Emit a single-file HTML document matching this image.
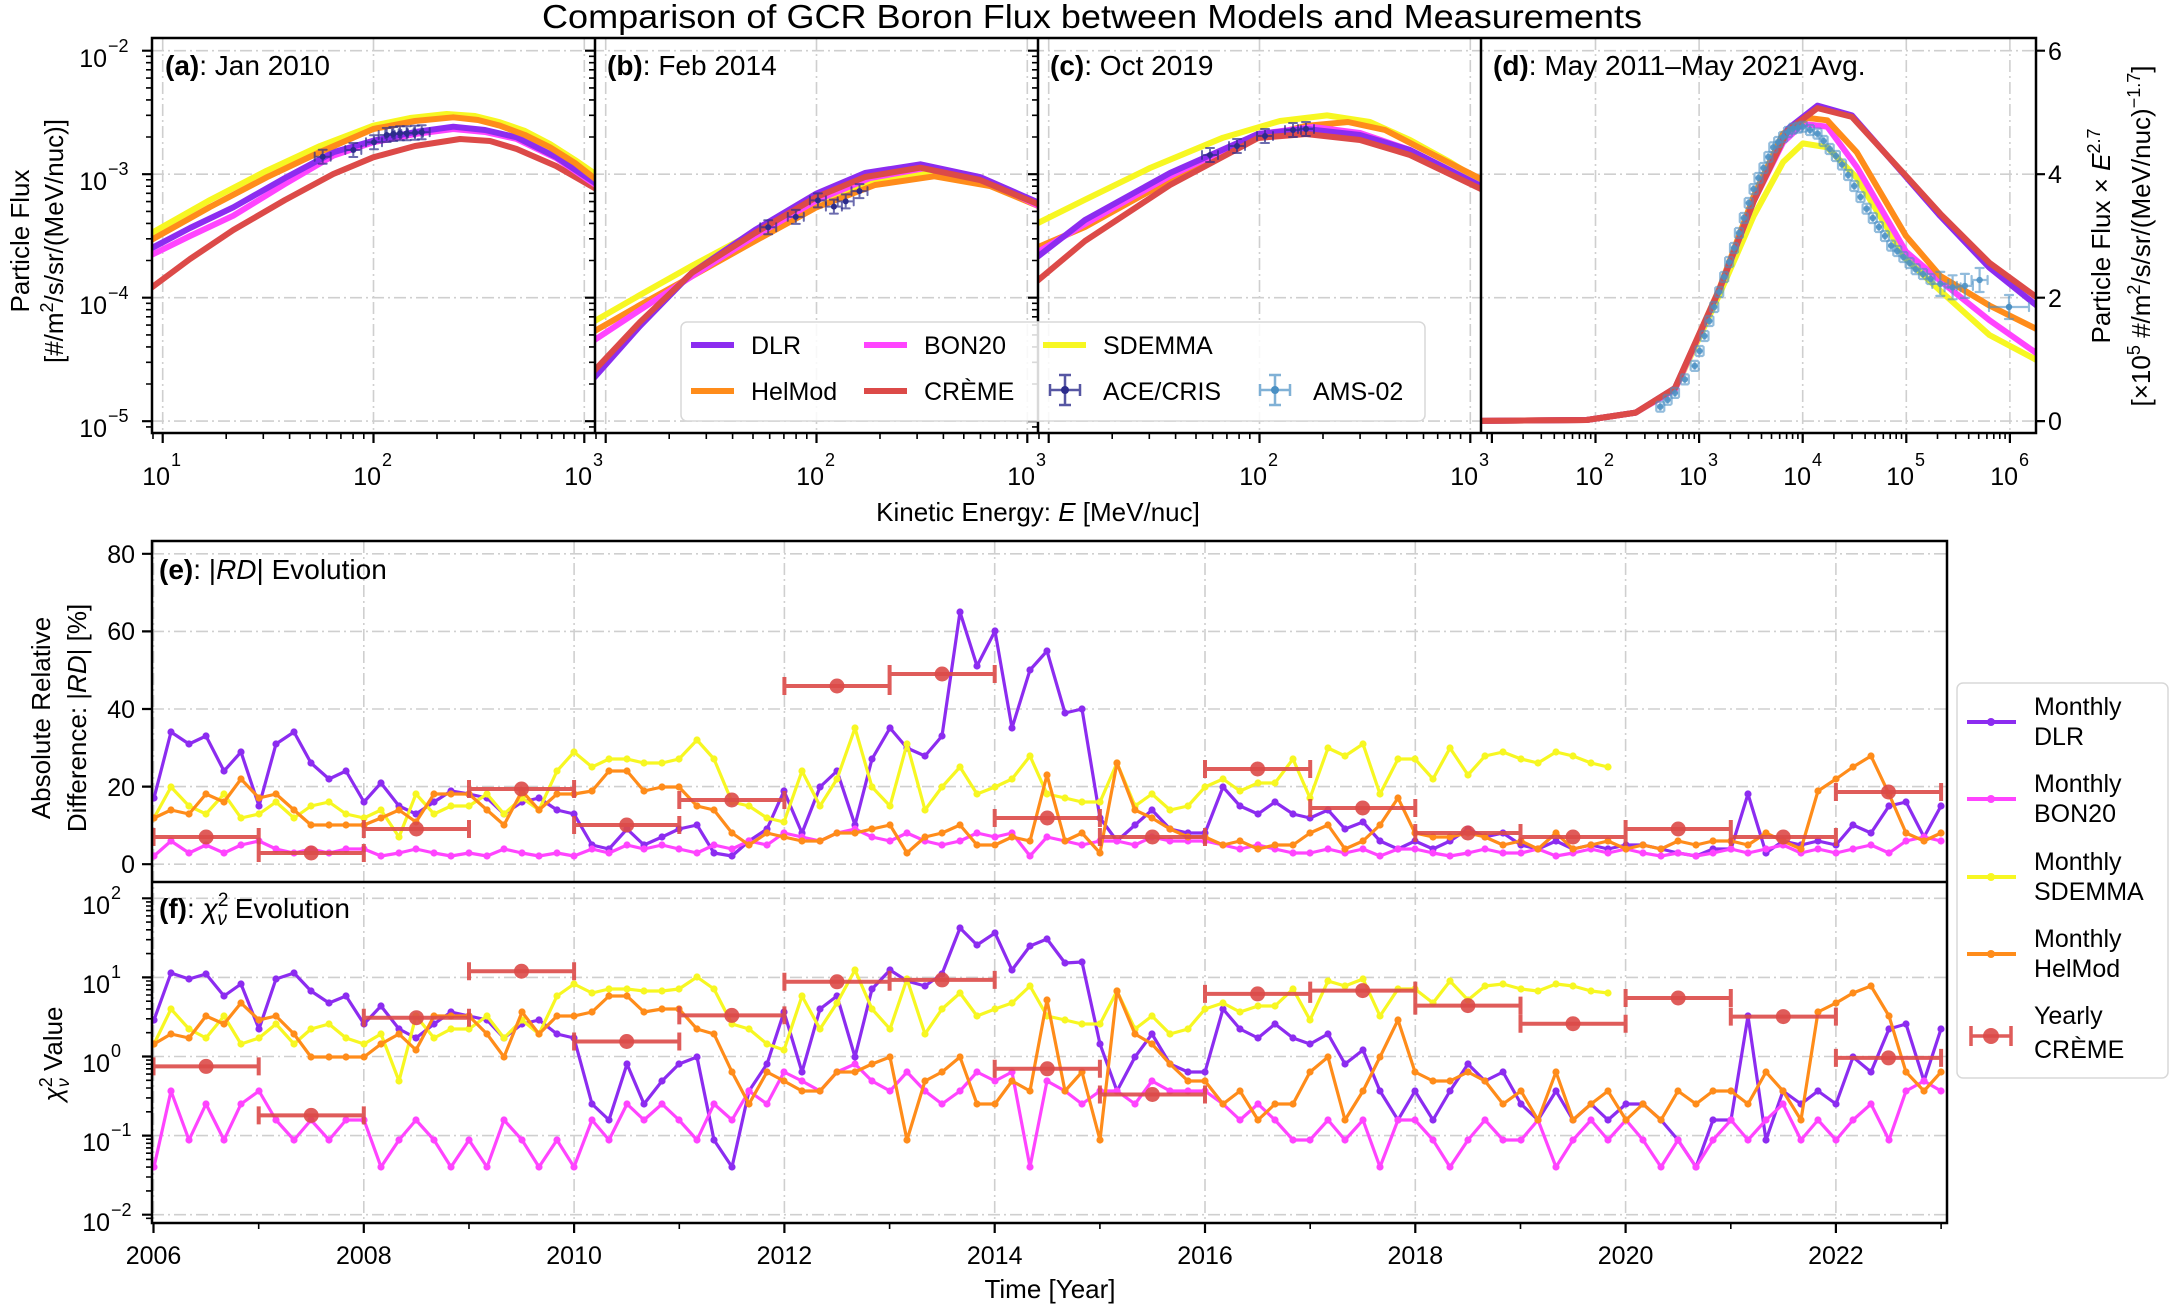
<!DOCTYPE html>
<html><head><meta charset="utf-8">
<style>
html,body{margin:0;padding:0;background:#fff;}
svg{display:block;font-family:"Liberation Sans",Arial,sans-serif;}
</style></head>
<body>
<svg width="2170" height="1305" viewBox="0 0 2170 1305" xmlns="http://www.w3.org/2000/svg">
<defs>
<clipPath id="ca"><rect x="152" y="38" width="443" height="395"/></clipPath>
<clipPath id="cb"><rect x="595" y="38" width="443" height="395"/></clipPath>
<clipPath id="cc"><rect x="1038" y="38" width="443" height="395"/></clipPath>
<clipPath id="cd"><rect x="1481" y="38" width="555" height="395"/></clipPath>
<clipPath id="ce"><rect x="152" y="541" width="1795" height="341"/></clipPath>
<clipPath id="cf"><rect x="152" y="882" width="1795" height="341"/></clipPath>
<marker id="mP" viewBox="0 0 8 8" refX="4" refY="4" markerWidth="8" markerHeight="8" markerUnits="userSpaceOnUse"><circle cx="4" cy="4" r="3.6" fill="#8c2cf0"/></marker>
<marker id="mB" viewBox="0 0 8 8" refX="4" refY="4" markerWidth="8" markerHeight="8" markerUnits="userSpaceOnUse"><circle cx="4" cy="4" r="3.6" fill="#ff44ff"/></marker>
<marker id="mS" viewBox="0 0 8 8" refX="4" refY="4" markerWidth="8" markerHeight="8" markerUnits="userSpaceOnUse"><circle cx="4" cy="4" r="3.6" fill="#f7f722"/></marker>
<marker id="mH" viewBox="0 0 8 8" refX="4" refY="4" markerWidth="8" markerHeight="8" markerUnits="userSpaceOnUse"><circle cx="4" cy="4" r="3.6" fill="#ff8c1a"/></marker>
<g id="ace" stroke="#2c2c8c" stroke-opacity="0.7" stroke-width="2"><path d="M-8,0H8M0,-7V7M-8,-4V4M8,-4V4M-4,-7H4M-4,7H4" fill="none"/><circle r="3" fill="#2c2c8c" stroke="none"/></g>
<g id="ams" stroke="#4a90c4" stroke-opacity="0.6" stroke-width="2.2"><path d="M-4,0H4M0,-5V5M-4,-4V4M4,-4V4M-3,-5H3M-3,5H3" fill="none"/><circle r="3.2" fill="#4a90c4" fill-opacity="0.85" stroke="none"/></g>
<g id="amsb" stroke="#4a90c4" stroke-opacity="0.6" stroke-width="2.2"><path d="M-8,0H8M0,-12V12M-8,-4V4M8,-4V4M-4,-12H4M-4,12H4" fill="none"/><circle r="3.2" fill="#4a90c4" fill-opacity="0.85" stroke="none"/></g>
<g id="xt" stroke="#000" fill="none">
<path stroke-width="2.2" d="M162.7,433V443M373.5,433V443M584.3,433V443"/>
<path stroke-width="1.6" d="M153,433V439M226.2,433V439M263.3,433V439M289.6,433V439M310,433V439M326.7,433V439M340.9,433V439M353.1,433V439M363.8,433V439M437,433V439M474.1,433V439M500.4,433V439M520.8,433V439M537.5,433V439M551.7,433V439M563.9,433V439M574.6,433V439"/>
<path stroke-width="2.2" d="M152,50.7H142M152,174.2H142M152,297.7H142M152,421.2H142"/>
<path stroke-width="1.6" d="M152,137H146M152,115.3H146M152,99.9H146M152,87.9H146M152,78.1H146M152,69.8H146M152,62.7H146M152,56.3H146M152,260.5H146M152,238.8H146M152,223.4H146M152,211.4H146M152,201.6H146M152,193.3H146M152,186.2H146M152,179.8H146M152,384H146M152,362.3H146M152,346.9H146M152,334.9H146M152,325.1H146M152,316.8H146M152,309.7H146M152,303.3H146M152,426.9H146"/>
</g>
</defs>
<rect width="2170" height="1305" fill="#fff"/>
<!-- grid -->
<g stroke="#cfcfcf" stroke-width="1.6" stroke-dasharray="12,4,2,4" fill="none">
<path d="M162.7,38V433M373.5,38V433M584.3,38V433M605.7,38V433M816.5,38V433M1027.3,38V433M1048.7,38V433M1259.5,38V433M1470.3,38V433M1595.5,38V433M1699.1,38V433M1802.7,38V433M1906.3,38V433M2009.9,38V433"/>
<path d="M152,50.7H2036M152,174.2H2036M152,297.7H2036M152,421.1H2036"/>
<path d="M153.5,541V1223M363.8,541V1223M574.1,541V1223M784.4,541V1223M994.7,541V1223M1205,541V1223M1415.3,541V1223M1625.6,541V1223M1835.9,541V1223"/>
<path d="M152,553.8H1947M152,631.4H1947M152,709H1947M152,786.6H1947M152,864.2H1947M152,898.3H1947M152,977.4H1947M152,1056.5H1947M152,1135.6H1947M152,1214.7H1947"/>
</g>
<!-- ticks -->
<use href="#xt"/><use href="#xt" x="443"/><use href="#xt" x="886"/>
<g stroke="#000" fill="none">
<path stroke-width="2.2" d="M1491.9,433V443M1595.5,433V443M1699.1,433V443M1802.7,433V443M1906.3,433V443M2009.9,433V443M2036,50.7H2045M2036,174.2H2045M2036,297.7H2045M2036,421.1H2045"/>
<path stroke-width="1.6" d="M1487.1,433V439M1523.1,433V439M1541.3,433V439M1554.3,433V439M1564.3,433V439M1572.5,433V439M1579.4,433V439M1585.4,433V439M1590.7,433V439M1626.7,433V439M1644.9,433V439M1657.9,433V439M1667.9,433V439M1676.1,433V439M1683,433V439M1689,433V439M1694.3,433V439M1730.3,433V439M1748.5,433V439M1761.5,433V439M1771.5,433V439M1779.7,433V439M1786.6,433V439M1792.6,433V439M1797.9,433V439M1833.9,433V439M1852.1,433V439M1865.1,433V439M1875.1,433V439M1883.3,433V439M1890.2,433V439M1896.2,433V439M1901.5,433V439M1937.5,433V439M1955.7,433V439M1968.7,433V439M1978.7,433V439M1986.9,433V439M1993.8,433V439M1999.8,433V439M2005.1,433V439"/>
<path stroke-width="2.2" d="M153.5,1223V1233M363.8,1223V1233M574.1,1223V1233M784.4,1223V1233M994.7,1223V1233M1205,1223V1233M1415.3,1223V1233M1625.6,1223V1233M1835.9,1223V1233M152,553.8H142M152,631.4H142M152,709H142M152,786.6H142M152,864.2H142M152,898.3H142M152,977.4H142M152,1056.5H142M152,1135.6H142M152,1214.7H142"/>
<path stroke-width="1.6" d="M258.7,1223V1229M469,1223V1229M679.3,1223V1229M889.6,1223V1229M1099.9,1223V1229M1310.2,1223V1229M1520.5,1223V1229M1730.8,1223V1229M1941.1,1223V1229M152,1190.9H146M152,1177H146M152,1167.1H146M152,1159.4H146M152,1153.2H146M152,1147.9H146M152,1143.3H146M152,1139.2H146M152,1111.8H146M152,1097.9H146M152,1088H146M152,1080.3H146M152,1074.1H146M152,1068.8H146M152,1064.2H146M152,1060.1H146M152,1032.7H146M152,1018.8H146M152,1008.9H146M152,1001.2H146M152,995H146M152,989.7H146M152,985.1H146M152,981H146M152,953.6H146M152,939.7H146M152,929.8H146M152,922.1H146M152,915.9H146M152,910.6H146M152,906H146M152,901.9H146M152,1218.3H146"/>
</g>
<!-- top curves -->
<g fill="none" stroke-width="6" stroke-linejoin="round" stroke-linecap="round">
<g clip-path="url(#ca)">
<polyline stroke="#dc4a48" points="150,288.7 190,259 233.3,230 285,200 333.3,174 373.3,157.3 415,146 460,139 490,141 516.7,149 556,166 596.7,189.3"/>
<polyline stroke="#ff44ff" points="150,255.7 190,236 233.3,215.7 285,184 333.3,155.7 373.3,142.3 415,134 453.3,129 485,132 516.7,139 556,158 596.7,185.7"/>
<polyline stroke="#8c2cf0" points="150,249 190,228 233.3,207.3 285,178 333.3,152.3 373.3,140.7 415,132 453.3,126.7 485,130 516.7,137.3 556,157 596.7,184"/>
<polyline stroke="#f7f722" points="150,234 210,200 266.7,170.7 320,146 373.3,125.7 410,118 446.7,114 475,116 500,122.3 525,131 550,144 575,160 596.7,175"/>
<polyline stroke="#ff8c1a" points="150,240.7 210,207 266.7,177.3 320,152 373.3,129 415,121 453.3,117.3 478,120 500,125.7 525,135 550,147.3 575,163 596.7,180"/>
<use href="#ace" x="322.7" y="156.7"/><use href="#ace" x="353.3" y="150"/><use href="#ace" x="374" y="142.3"/><use href="#ace" x="386.7" y="135"/><use href="#ace" x="393.3" y="134"/><use href="#ace" x="400" y="133.3"/><use href="#ace" x="406.7" y="133.3"/><use href="#ace" x="415" y="132.7"/><use href="#ace" x="421.7" y="132.3"/>
</g>
<g clip-path="url(#cb)">
<polyline stroke="#f7f722" points="593,322 640,295 692,265.8 755,232 816.6,200.4 870,182 927.3,172.9 985,182 1041.5,203.9"/>
<polyline stroke="#ff8c1a" points="593,332 640,305 692,276.2 755,241 816.6,207.3 875,185 934.3,176.3 990,186 1041.5,207.3"/>
<polyline stroke="#ff44ff" points="593,341 640,310 692,276.2 755,236 816.6,200.4 870,178 927.3,167.7 985,180 1041.5,207.3"/>
<polyline stroke="#8c2cf0" points="593,379 640,326 692,272.7 755,230 816.6,193.5 865,173 920.4,164.3 980,177 1041.5,203.9"/>
<polyline stroke="#dc4a48" points="593,372 640,322 692,272.7 755,233 816.6,197 865,177 920.4,167.7 980,180 1041.5,205.6"/>
<use href="#ace" x="768.2" y="227.3"/><use href="#ace" x="795.8" y="216.9"/><use href="#ace" x="817.9" y="200.4"/><use href="#ace" x="833.9" y="206.6"/><use href="#ace" x="845.7" y="201.4"/><use href="#ace" x="859.5" y="191.1"/>
</g>
<g clip-path="url(#cc)">
<polyline stroke="#f7f722" points="1036,224 1085,199.7 1150,168 1223,137.7 1280,121 1327,115.4 1370,122 1410,140 1450,162 1483,182.5"/>
<polyline stroke="#ff8c1a" points="1036,248 1085,227 1170,180 1258,138 1305,126 1348,122 1385,130 1420,148 1483,180"/>
<polyline stroke="#ff44ff" points="1036,253 1085,224 1170,176 1258,134 1313,127 1360,133 1410,150 1483,187"/>
<polyline stroke="#8c2cf0" points="1036,258 1085,220 1170,173 1258,134 1306,129 1360,135 1410,150 1483,187"/>
<polyline stroke="#dc4a48" points="1036,282 1085,241 1170,185 1258,138 1306,134 1360,140 1410,155 1483,190"/>
<use href="#ace" x="1210" y="155"/><use href="#ace" x="1237" y="146"/><use href="#ace" x="1265" y="136"/><use href="#ace" x="1293" y="130"/><use href="#ace" x="1306" y="129"/>
</g>
<g clip-path="url(#cd)">
<polyline stroke="#f7f722" points="1478.6,420.9 1586.6,420 1635.8,412.6 1675,389.5 1719.3,294.7 1753.6,216.1 1783.1,162.1 1802.8,143.4 1827.3,147.3 1856.8,177.8 1905.9,258.8 1940.3,290.8 1989.4,335 2038.5,361"/>
<polyline stroke="#ff44ff" points="1478.6,420.9 1586.6,420 1635.8,412.6 1675,389.5 1719.3,289.8 1753.6,201.4 1783.1,142.4 1802.8,123.8 1827.3,126.7 1856.8,167 1905.9,251.5 1940.3,280.9 1989.4,320.2 2038.5,354.6"/>
<polyline stroke="#ff8c1a" points="1478.6,420.9 1586.6,420 1635.8,412.6 1675,388 1719.3,288.8 1753.6,196.5 1783.1,133.6 1807.5,117.9 1827.3,120.3 1856.8,152.3 1905.9,235.8 1940.3,276 1989.4,305.5 2038.5,330"/>
<polyline stroke="#8c2cf0" points="1478.6,420.9 1586.6,420 1635.8,412.6 1675,388 1719.3,289.8 1753.6,201.4 1788,128.7 1817.5,105.6 1851.9,115.4 1905.9,176.8 1940.3,216.1 1989.4,267.7 2038.5,307"/>
<polyline stroke="#dc4a48" points="1478.6,420.9 1586.6,420 1635.8,412.6 1675,388 1719.3,289.8 1753.6,201.4 1788,130.2 1817.5,108.1 1851.9,116.9 1905.9,175.8 1940.3,213.7 1989.4,262.8 2038.5,298.6"/>
<use href="#ams" x="1660.3" y="406.7"/><use href="#ams" x="1667.6" y="399.8"/><use href="#ams" x="1675" y="392.9"/><use href="#ams" x="1684.8" y="379.4"/><use href="#ams" x="1694.7" y="365.9"/><use href="#ams" x="1699.6" y="351"/><use href="#ams" x="1704.5" y="336"/><use href="#ams" x="1709.4" y="321"/><use href="#ams" x="1714.3" y="307"/><use href="#ams" x="1719.2" y="292"/><use href="#ams" x="1724.2" y="277"/><use href="#ams" x="1729.1" y="262"/><use href="#ams" x="1734" y="248"/><use href="#ams" x="1738.9" y="233"/><use href="#ams" x="1743.8" y="218"/><use href="#ams" x="1748.7" y="203"/><use href="#ams" x="1753.6" y="189.1"/><use href="#ams" x="1758.5" y="178"/><use href="#ams" x="1763.5" y="168"/><use href="#ams" x="1768.4" y="157"/><use href="#ams" x="1773.3" y="147.3"/><use href="#ams" x="1778.2" y="142"/><use href="#ams" x="1783.1" y="137"/><use href="#ams" x="1788" y="132"/><use href="#ams" x="1792.9" y="128.7"/><use href="#ams" x="1797.9" y="127.7"/><use href="#ams" x="1802.8" y="126.7"/><use href="#ams" x="1810" y="130"/><use href="#ams" x="1817.5" y="133.6"/><use href="#ams" x="1823.6" y="141"/><use href="#ams" x="1829.7" y="149"/><use href="#ams" x="1835.9" y="156"/><use href="#ams" x="1842" y="164.5"/><use href="#ams" x="1848.2" y="175"/><use href="#ams" x="1854.3" y="186"/><use href="#ams" x="1860.5" y="197"/><use href="#ams" x="1866.6" y="208.7"/><use href="#ams" x="1872.8" y="218"/><use href="#ams" x="1878.9" y="227"/><use href="#ams" x="1885" y="236"/><use href="#ams" x="1891.2" y="245.6"/><use href="#ams" x="1897.3" y="251"/><use href="#ams" x="1903.4" y="257"/><use href="#ams" x="1909.6" y="263"/><use href="#ams" x="1915.7" y="269.2"/><use href="#ams" x="1923" y="274"/><use href="#ams" x="1930.5" y="279"/>
<use href="#amsb" x="1940.3" y="283.9"/><use href="#amsb" x="1952.6" y="287.3"/><use href="#amsb" x="1964.9" y="285.9"/><use href="#amsb" x="1979.6" y="280"/>
<g stroke="#4a90c4" stroke-opacity="0.6" stroke-width="2.2"><path d="M1989,307H2029M2009,295V319M1989,303V311M2029,303V311M2005,295H2013M2005,319H2013" fill="none"/><circle cx="2009" cy="307" r="3.2" fill="#4a90c4" stroke="none"/></g>
</g>
</g>
<!-- time series e -->
<g fill="none" stroke-width="3.2" stroke-linejoin="round">
<g clip-path="url(#ce)">
<polyline stroke="#8c2cf0" marker-start="url(#mP)" marker-mid="url(#mP)" marker-end="url(#mP)" points="154,798 171,732 189,744 206,736 224,771 241,752 259,806 276,744 294,732 311,763 329,779 346,771 364,802 381,783 399,806 416,814 434,802 451,791 469,794 487,798 504,814 522,802 539,798 557,810 574,814 592,845 609,849 627,829 644,845 662,837 679,829 697,825 714,853 732,856 749,841 767,829 784,791 802,833 820,787 837,771 855,825 872,759 890,728 907,748 925,756 942,736 960,612 977,666 995,631 1012,728 1030,670 1047,651 1065,713 1082,709 1100,818 1117,841 1135,825 1152,810 1170,829 1188,833 1205,833 1223,787 1240,806 1258,814 1275,802 1293,814 1310,818 1328,810 1345,829 1363,822 1380,841 1398,849 1415,841 1433,849 1450,841 1468,829 1485,837 1503,833 1521,845 1538,849 1556,841 1573,849 1591,845 1608,849 1626,845 1643,845 1661,849 1678,853 1696,856 1713,849 1731,849 1748,794 1766,853 1783,841 1801,845 1818,841 1836,845 1853,825 1871,833 1889,806 1906,802 1924,837 1941,806"/>
<polyline stroke="#ff44ff" marker-start="url(#mB)" marker-mid="url(#mB)" marker-end="url(#mB)" points="154,856 171,841 189,853 206,845 224,853 241,845 259,841 276,849 294,853 311,849 329,853 346,849 364,849 381,856 399,853 416,849 434,853 451,856 469,853 487,856 504,849 522,853 539,856 557,853 574,856 592,849 609,853 627,845 644,849 662,845 679,849 697,853 714,845 732,849 749,841 767,845 784,833 802,837 820,841 837,833 855,829 872,837 890,841 907,833 925,841 942,845 960,841 977,833 995,837 1012,833 1030,856 1047,837 1065,841 1082,845 1100,841 1117,841 1135,845 1152,837 1170,841 1188,841 1205,841 1223,845 1240,849 1258,845 1275,849 1293,853 1310,853 1328,849 1345,853 1363,849 1380,856 1398,849 1415,849 1433,853 1450,856 1468,853 1485,849 1503,853 1521,853 1538,849 1556,856 1573,853 1591,849 1608,853 1626,849 1643,853 1661,856 1678,853 1696,856 1713,853 1731,849 1748,853 1766,849 1783,845 1801,853 1818,849 1836,853 1853,849 1871,845 1889,853 1906,841 1924,837 1941,841"/>
<polyline stroke="#f7f722" marker-start="url(#mS)" marker-mid="url(#mS)" marker-end="url(#mS)" points="154,818 171,787 189,806 206,814 224,794 241,818 259,814 276,802 294,818 311,806 329,802 346,814 364,818 381,810 399,837 416,794 434,814 451,806 469,806 487,794 504,814 522,798 539,810 557,771 574,752 592,767 609,759 627,759 644,763 662,763 679,759 697,740 714,759 732,802 749,806 767,818 784,822 802,771 820,806 837,779 855,728 872,787 890,806 907,744 925,810 942,787 960,767 977,794 995,787 1012,779 1030,756 1047,794 1065,798 1082,802 1100,802 1117,763 1135,806 1152,794 1170,810 1188,806 1205,787 1223,779 1240,791 1258,783 1275,783 1293,759 1310,798 1328,748 1345,756 1363,744 1380,794 1398,759 1415,759 1433,779 1450,748 1468,775 1485,756 1503,752 1521,759 1538,763 1556,752 1573,756 1591,763 1608,767"/>
<polyline stroke="#ff8c1a" marker-start="url(#mH)" marker-mid="url(#mH)" marker-end="url(#mH)" points="154,818 171,810 189,814 206,794 224,802 241,779 259,798 276,794 294,810 311,825 329,825 346,825 364,825 381,818 399,810 416,822 434,794 451,794 469,794 487,810 504,825 522,791 539,810 557,794 574,794 592,791 609,771 627,771 644,791 662,787 679,787 697,806 714,810 732,833 749,845 767,833 784,837 802,841 820,841 837,833 855,833 872,829 890,825 907,853 925,837 942,833 960,825 977,845 995,845 1012,837 1030,841 1047,775 1065,841 1082,833 1100,853 1117,763 1135,810 1152,818 1170,829 1188,837 1205,837 1223,845 1240,841 1258,849 1275,845 1293,845 1310,833 1328,825 1345,849 1363,841 1380,825 1398,798 1415,833 1433,837 1450,837 1468,833 1485,837 1503,845 1521,841 1538,849 1556,833 1573,849 1591,845 1608,841 1626,849 1643,845 1661,849 1678,841 1696,845 1713,841 1731,841 1748,845 1766,833 1783,841 1801,849 1818,791 1836,779 1853,767 1871,756 1889,794 1906,833 1924,841 1941,833"/>
<g stroke="#dc4a48" stroke-opacity="0.9" stroke-width="4" fill="#dc4a48">
<path d="M153.5,837H258.7M153.5,828v18M258.7,828v18M258.7,853H363.8M258.7,844v18M363.8,844v18M363.8,829H469M363.8,820v18M469,820v18M469,789H574.1M469,780v18M574.1,780v18M574.1,825H679.3M574.1,816v18M679.3,816v18M679.3,800H784.4M679.3,791v18M784.4,791v18M784.4,686H889.6M784.4,677v18M889.6,677v18M889.6,674H994.7M889.6,665v18M994.7,665v18M994.7,818H1099.9M994.7,809v18M1099.9,809v18M1099.9,837H1205M1099.9,828v18M1205,828v18M1205,769H1310.2M1205,760v18M1310.2,760v18M1310.2,808H1415.3M1310.2,799v18M1415.3,799v18M1415.3,833H1520.5M1415.3,824v18M1520.5,824v18M1520.5,837H1625.6M1520.5,828v18M1625.6,828v18M1625.6,829H1730.8M1625.6,820v18M1730.8,820v18M1730.8,837H1835.9M1730.8,828v18M1835.9,828v18M1835.9,792H1941.1M1835.9,783v18M1941.1,783v18" fill="none"/>
<g stroke="none" fill-opacity="0.9"><circle cx="206.1" cy="837" r="7.5"/><circle cx="311.2" cy="853" r="7.5"/><circle cx="416.4" cy="829" r="7.5"/><circle cx="521.5" cy="789" r="7.5"/><circle cx="626.7" cy="825" r="7.5"/><circle cx="731.8" cy="800" r="7.5"/><circle cx="837" cy="686" r="7.5"/><circle cx="942.1" cy="674" r="7.5"/><circle cx="1047.3" cy="818" r="7.5"/><circle cx="1152.4" cy="837" r="7.5"/><circle cx="1257.6" cy="769" r="7.5"/><circle cx="1362.7" cy="808" r="7.5"/><circle cx="1467.9" cy="833" r="7.5"/><circle cx="1573" cy="837" r="7.5"/><circle cx="1678.2" cy="829" r="7.5"/><circle cx="1783.3" cy="837" r="7.5"/><circle cx="1888.5" cy="792" r="7.5"/></g>
</g>
</g>
<!-- time series f -->
<g clip-path="url(#cf)">
<polyline stroke="#8c2cf0" marker-start="url(#mP)" marker-mid="url(#mP)" marker-end="url(#mP)" points="154,1020 171,973 189,979 206,974 224,996 241,984 259,1029 276,979 294,973 311,991 329,1003 346,996 364,1024 381,1006 399,1029 416,1038 434,1024 451,1012 469,1016 487,1020 504,1038 522,1024 539,1020 557,1034 574,1038 592,1104 609,1120 627,1064 644,1104 662,1081 679,1064 697,1057 714,1140 732,1167 749,1091 767,1064 784,1012 802,1072 820,1009 837,996 855,1057 872,989 890,970 907,981 925,986 942,974 960,928 977,945 995,933 1012,970 1030,946 1047,939 1065,963 1082,962 1100,1044 1117,1091 1135,1057 1152,1034 1170,1064 1188,1072 1205,1072 1223,1009 1240,1029 1258,1038 1275,1024 1293,1038 1310,1044 1328,1034 1345,1064 1363,1050 1380,1091 1398,1120 1415,1091 1433,1120 1450,1091 1468,1064 1485,1081 1503,1072 1521,1104 1538,1120 1556,1091 1573,1120 1591,1104 1608,1120 1626,1104 1643,1104 1661,1120 1678,1140 1696,1167 1713,1120 1731,1120 1748,1016 1766,1140 1783,1091 1801,1104 1818,1091 1836,1104 1853,1057 1871,1072 1889,1029 1906,1024 1924,1081 1941,1029"/>
<polyline stroke="#ff44ff" marker-start="url(#mB)" marker-mid="url(#mB)" marker-end="url(#mB)" points="154,1167 171,1091 189,1140 206,1104 224,1140 241,1104 259,1091 276,1120 294,1140 311,1120 329,1140 346,1120 364,1120 381,1167 399,1140 416,1120 434,1140 451,1167 469,1140 487,1167 504,1120 522,1140 539,1167 557,1140 574,1167 592,1120 609,1140 627,1104 644,1120 662,1104 679,1120 697,1140 714,1104 732,1120 749,1091 767,1104 784,1072 802,1081 820,1091 837,1072 855,1064 872,1081 890,1091 907,1072 925,1091 942,1104 960,1091 977,1072 995,1081 1012,1072 1030,1167 1047,1081 1065,1091 1082,1104 1100,1091 1117,1091 1135,1104 1152,1081 1170,1091 1188,1091 1205,1091 1223,1104 1240,1120 1258,1104 1275,1120 1293,1140 1310,1140 1328,1120 1345,1140 1363,1120 1380,1167 1398,1120 1415,1120 1433,1140 1450,1167 1468,1140 1485,1120 1503,1140 1521,1140 1538,1120 1556,1167 1573,1140 1591,1120 1608,1140 1626,1120 1643,1140 1661,1167 1678,1140 1696,1167 1713,1140 1731,1120 1748,1140 1766,1120 1783,1104 1801,1140 1818,1120 1836,1140 1853,1120 1871,1104 1889,1140 1906,1091 1924,1081 1941,1091"/>
<polyline stroke="#f7f722" marker-start="url(#mS)" marker-mid="url(#mS)" marker-end="url(#mS)" points="154,1044 171,1009 189,1029 206,1038 224,1016 241,1044 259,1038 276,1024 294,1044 311,1029 329,1024 346,1038 364,1044 381,1034 399,1081 416,1016 434,1038 451,1029 469,1029 487,1016 504,1038 522,1020 539,1034 557,996 574,984 592,993 609,989 627,989 644,991 662,991 679,989 697,977 714,989 732,1024 749,1029 767,1044 784,1050 802,996 820,1029 837,1003 855,970 872,1009 890,1029 907,979 925,1034 942,1009 960,993 977,1016 995,1009 1012,1003 1030,986 1047,1016 1065,1020 1082,1024 1100,1024 1117,991 1135,1029 1152,1016 1170,1034 1188,1029 1205,1009 1223,1003 1240,1012 1258,1006 1275,1006 1293,989 1310,1020 1328,981 1345,986 1363,979 1380,1016 1398,989 1415,989 1433,1003 1450,981 1468,1000 1485,986 1503,984 1521,989 1538,991 1556,984 1573,986 1591,991 1608,993"/>
<polyline stroke="#ff8c1a" marker-start="url(#mH)" marker-mid="url(#mH)" marker-end="url(#mH)" points="154,1044 171,1034 189,1038 206,1016 224,1024 241,1003 259,1020 276,1016 294,1034 311,1057 329,1057 346,1057 364,1057 381,1044 399,1034 416,1050 434,1016 451,1016 469,1016 487,1034 504,1057 522,1012 539,1034 557,1016 574,1016 592,1012 609,996 627,996 644,1012 662,1009 679,1009 697,1029 714,1034 732,1072 749,1104 767,1072 784,1081 802,1091 820,1091 837,1072 855,1072 872,1064 890,1057 907,1140 925,1081 942,1072 960,1057 977,1104 995,1104 1012,1081 1030,1091 1047,1000 1065,1091 1082,1072 1100,1140 1117,991 1135,1034 1152,1044 1170,1064 1188,1081 1205,1081 1223,1104 1240,1091 1258,1120 1275,1104 1293,1104 1310,1072 1328,1057 1345,1120 1363,1091 1380,1057 1398,1020 1415,1072 1433,1081 1450,1081 1468,1072 1485,1081 1503,1104 1521,1091 1538,1120 1556,1072 1573,1120 1591,1104 1608,1091 1626,1120 1643,1104 1661,1120 1678,1091 1696,1104 1713,1091 1731,1091 1748,1104 1766,1072 1783,1091 1801,1120 1818,1012 1836,1003 1853,993 1871,986 1889,1016 1906,1072 1924,1091 1941,1072"/>
<g stroke="#dc4a48" stroke-opacity="0.9" stroke-width="4" fill="#dc4a48">
<path d="M153.5,1066.4H258.7M153.5,1057.4v18M258.7,1057.4v18M258.7,1115.4H363.8M258.7,1106.4v18M363.8,1106.4v18M363.8,1017.7H469M363.8,1008.7v18M469,1008.7v18M469,971.2H574.1M469,962.2v18M574.1,962.2v18M574.1,1041.5H679.3M574.1,1032.5v18M679.3,1032.5v18M679.3,1015.4H784.4M679.3,1006.4v18M784.4,1006.4v18M784.4,981.8H889.6M784.4,972.8v18M889.6,972.8v18M889.6,979.9H994.7M889.6,970.9v18M994.7,970.9v18M994.7,1068.8H1099.9M994.7,1059.8v18M1099.9,1059.8v18M1099.9,1094.5H1205M1099.9,1085.5v18M1205,1085.5v18M1205,993.9H1310.2M1205,984.9v18M1310.2,984.9v18M1310.2,990.6H1415.3M1310.2,981.6v18M1415.3,981.6v18M1415.3,1005.6H1520.5M1415.3,996.6v18M1520.5,996.6v18M1520.5,1023.7H1625.6M1520.5,1014.7v18M1625.6,1014.7v18M1625.6,998H1730.8M1625.6,989v18M1730.8,989v18M1730.8,1016.6H1835.9M1730.8,1007.6v18M1835.9,1007.6v18M1835.9,1057.9H1941.1M1835.9,1048.9v18M1941.1,1048.9v18" fill="none"/>
<g stroke="none" fill-opacity="0.9"><circle cx="206.1" cy="1066.4" r="7.5"/><circle cx="311.2" cy="1115.4" r="7.5"/><circle cx="416.4" cy="1017.7" r="7.5"/><circle cx="521.5" cy="971.2" r="7.5"/><circle cx="626.7" cy="1041.5" r="7.5"/><circle cx="731.8" cy="1015.4" r="7.5"/><circle cx="837" cy="981.8" r="7.5"/><circle cx="942.1" cy="979.9" r="7.5"/><circle cx="1047.3" cy="1068.8" r="7.5"/><circle cx="1152.4" cy="1094.5" r="7.5"/><circle cx="1257.6" cy="993.9" r="7.5"/><circle cx="1362.7" cy="990.6" r="7.5"/><circle cx="1467.9" cy="1005.6" r="7.5"/><circle cx="1573" cy="1023.7" r="7.5"/><circle cx="1678.2" cy="998" r="7.5"/><circle cx="1783.3" cy="1016.6" r="7.5"/><circle cx="1888.5" cy="1057.9" r="7.5"/></g>
</g>
</g>
</g>
<!-- frames -->
<g fill="none" stroke="#000" stroke-width="2.5">
<rect x="152" y="38" width="1884" height="395"/>
<line x1="595" y1="38" x2="595" y2="433"/>
<line x1="1038" y1="38" x2="1038" y2="433"/>
<line x1="1481" y1="38" x2="1481" y2="433"/>
<rect x="152" y="541" width="1795" height="682"/>
<line x1="152" y1="882" x2="1947" y2="882"/>
</g>
<!-- top legend -->
<rect x="681" y="322" width="744" height="99" rx="6" fill="#fff" fill-opacity="0.85" stroke="#d8d8d8" stroke-width="1.5"/>
<g stroke-width="6">
<line x1="691" y1="345" x2="734" y2="345" stroke="#8c2cf0"/>
<line x1="864" y1="345" x2="907" y2="345" stroke="#ff44ff"/>
<line x1="1043" y1="345" x2="1086" y2="345" stroke="#f7f722"/>
<line x1="691" y1="391" x2="734" y2="391" stroke="#ff8c1a"/>
<line x1="864" y1="391" x2="907" y2="391" stroke="#dc4a48"/>
</g>
<g stroke="#2c2c8c" stroke-opacity="0.8" stroke-width="2.5" fill="none"><path d="M1050,390H1080M1065,375V405M1050,384V396M1080,384V396M1059,375H1071M1059,405H1071"/></g>
<circle cx="1065" cy="390" r="4" fill="#2c2c8c"/>
<g stroke="#4a90c4" stroke-opacity="0.7" stroke-width="2.5" fill="none"><path d="M1260,390H1290M1275,375V405M1260,384V396M1290,384V396M1269,375H1281M1269,405H1281"/></g>
<circle cx="1275" cy="390" r="4" fill="#4a90c4"/>
<g font-size="25" fill="#000">
<text x="751" y="354">DLR</text><text x="924" y="354">BON20</text><text x="1103" y="354">SDEMMA</text>
<text x="751" y="400">HelMod</text><text x="924" y="400">CRÈME</text><text x="1103" y="400">ACE/CRIS</text><text x="1313" y="400">AMS-02</text>
</g>
<!-- titles -->
<text x="1092" y="28" font-size="33" text-anchor="middle" textLength="1100" lengthAdjust="spacingAndGlyphs">Comparison of GCR Boron Flux between Models and Measurements</text>
<g font-size="28">
<text x="165" y="75"><tspan font-weight="bold">(a)</tspan>: Jan 2010</text>
<text x="607" y="75"><tspan font-weight="bold">(b)</tspan>: Feb 2014</text>
<text x="1050" y="75"><tspan font-weight="bold">(c)</tspan>: Oct 2019</text>
<text x="1493" y="75"><tspan font-weight="bold">(d)</tspan>: May 2011–May 2021 Avg.</text>
<text x="159" y="579"><tspan font-weight="bold">(e)</tspan>: |<tspan font-style="italic">RD</tspan>| Evolution</text>
<text x="159" y="918"><tspan font-weight="bold">(f)</tspan>: <tspan font-style="italic">χ</tspan><tspan font-size="19" dy="-12">2</tspan><tspan font-size="19" font-style="italic" dx="-11" dy="19">ν</tspan><tspan dy="-7"> Evolution</tspan></text>
</g>
<!-- axis labels -->
<g font-size="26">
<text x="1038" y="521" text-anchor="middle">Kinetic Energy: <tspan font-style="italic">E</tspan> [MeV/nuc]</text>
<text x="1050" y="1298" text-anchor="middle">Time [Year]</text>
<text transform="translate(29,241) rotate(-90)" text-anchor="middle">Particle Flux</text>
<text transform="translate(63,241) rotate(-90)" text-anchor="middle">[#/m<tspan font-size="18" dy="-10">2</tspan><tspan dy="10">/s/sr/(MeV/nuc)]</tspan></text>
<text transform="translate(2110,236) rotate(-90)" text-anchor="middle">Particle Flux × <tspan font-style="italic">E</tspan><tspan font-size="18" dy="-10">2.7</tspan></text>
<text transform="translate(2150,236) rotate(-90)" text-anchor="middle">[×10<tspan font-size="18" dy="-10">5</tspan><tspan dy="10"> #/m</tspan><tspan font-size="18" dy="-10">2</tspan><tspan dy="10">/s/sr/(MeV/nuc)</tspan><tspan font-size="18" dy="-10">−1.7</tspan><tspan dy="10">]</tspan></text>
<text transform="translate(50,718) rotate(-90)" text-anchor="middle">Absolute Relative</text>
<text transform="translate(86,718) rotate(-90)" text-anchor="middle">Difference: |<tspan font-style="italic">RD</tspan>| [%]</text>
<text transform="translate(62,1054) rotate(-90)" text-anchor="middle"><tspan font-style="italic">χ</tspan><tspan font-size="18" dy="-10">2</tspan><tspan font-size="18" font-style="italic" dx="-10" dy="17">ν</tspan><tspan dy="-7"> Value</tspan></text>
</g>
<!-- tick labels -->
<g font-size="25">
<g text-anchor="end">
<text x="170" y="485">10</text><text x="381" y="485">10</text><text x="592" y="485">10</text>
<text x="824" y="485">10</text><text x="1035" y="485">10</text>
<text x="1267" y="485">10</text><text x="1478" y="485">10</text>
<text x="1603" y="485">10</text><text x="1707" y="485">10</text><text x="1811" y="485">10</text><text x="1914" y="485">10</text><text x="2018" y="485">10</text>
</g>
<g font-size="18">
<text x="171" y="466">1</text><text x="382" y="466">2</text><text x="593" y="466">3</text>
<text x="825" y="466">2</text><text x="1036" y="466">3</text>
<text x="1268" y="466">2</text><text x="1479" y="466">3</text>
<text x="1604" y="466">2</text><text x="1708" y="466">3</text><text x="1812" y="466">4</text><text x="1915" y="466">5</text><text x="2019" y="466">6</text>
</g>
<g text-anchor="end">
<text x="107" y="67">10</text><text x="107" y="190">10</text><text x="107" y="314">10</text><text x="107" y="437">10</text>
</g>
<g font-size="18">
<text x="108" y="52">−2</text><text x="108" y="175">−3</text><text x="108" y="299">−4</text><text x="108" y="422">−5</text>
</g>
<text x="2048" y="60">6</text><text x="2048" y="183">4</text><text x="2048" y="307">2</text><text x="2048" y="430">0</text>
<g text-anchor="end">
<text x="135" y="563">80</text><text x="135" y="640">60</text><text x="135" y="718">40</text><text x="135" y="796">20</text><text x="135" y="873">0</text>
<text x="110" y="914">10</text><text x="110" y="993">10</text><text x="110" y="1072">10</text><text x="110" y="1151">10</text><text x="110" y="1231">10</text>
</g>
<g font-size="18">
<text x="111" y="899">2</text><text x="111" y="978">1</text><text x="111" y="1057">0</text><text x="111" y="1136">−1</text><text x="111" y="1216">−2</text>
</g>
<g text-anchor="middle">
<text x="153.5" y="1264">2006</text><text x="363.8" y="1264">2008</text><text x="574.1" y="1264">2010</text><text x="784.4" y="1264">2012</text><text x="994.7" y="1264">2014</text><text x="1205" y="1264">2016</text><text x="1415.3" y="1264">2018</text><text x="1625.6" y="1264">2020</text><text x="1835.9" y="1264">2022</text>
</g>
</g>
<!-- right legend -->
<rect x="1957" y="683" width="211" height="395" rx="6" fill="#fff" stroke="#d8d8d8" stroke-width="1.5"/>
<g stroke-width="4">
<line x1="1967" y1="722" x2="2016" y2="722" stroke="#8c2cf0"/>
<line x1="1967" y1="799" x2="2016" y2="799" stroke="#ff44ff"/>
<line x1="1967" y1="877" x2="2016" y2="877" stroke="#f7f722"/>
<line x1="1967" y1="954" x2="2016" y2="954" stroke="#ff8c1a"/>
</g>
<circle cx="1991" cy="722" r="4" fill="#8c2cf0"/><circle cx="1991" cy="799" r="4" fill="#ff44ff"/><circle cx="1991" cy="877" r="4" fill="#f7f722"/><circle cx="1991" cy="954" r="4" fill="#ff8c1a"/>
<g stroke="#dc4a48" stroke-width="3.5" stroke-opacity="0.9" fill="none"><path d="M1971,1036H2011M1971,1026V1046M2011,1026V1046"/></g>
<circle cx="1991" cy="1036" r="8" fill="#dc4a48" fill-opacity="0.9"/>
<g font-size="25">
<text x="2034" y="715">Monthly</text><text x="2034" y="745">DLR</text>
<text x="2034" y="792">Monthly</text><text x="2034" y="822">BON20</text>
<text x="2034" y="870">Monthly</text><text x="2034" y="900">SDEMMA</text>
<text x="2034" y="947">Monthly</text><text x="2034" y="977">HelMod</text>
<text x="2034" y="1024">Yearly</text><text x="2034" y="1058">CRÈME</text>
</g>
</svg>
</body></html>
